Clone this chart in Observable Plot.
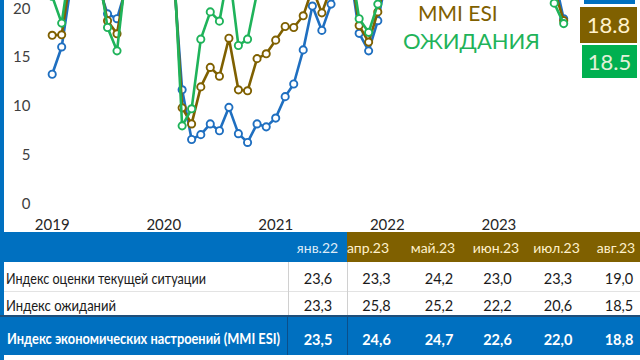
<!DOCTYPE html>
<html><head><meta charset="utf-8">
<script src="https://cdn.jsdelivr.net/npm/d3@7"></script>
<script src="https://cdn.jsdelivr.net/npm/@observablehq/plot@0.6"></script>
<style>
body{margin:0;background:#fff;font-family:Lato,"Open Sans",sans-serif;}
#wrap{position:relative;width:640px;height:360px;overflow:hidden;background:#fff;}
#wrap svg{position:absolute;left:0;top:0;}
.abs{position:absolute;white-space:nowrap;}
.cell{position:absolute;white-space:nowrap;transform:translate(-50%,-50%);}
.lbl{position:absolute;white-space:nowrap;transform-origin:0 50%;}
</style></head><body><div id="wrap"></div>
<script>
// ---- data (monthly, Jan 2019 – Aug 2023) ----
const current = [13.3,16.1,22.0,22.8,23.2,22.4,19.5,19.0,22.3,23.0,23.6,23.2,
  23.8,24.0,11.7,6.6,7.1,8.2,7.5,9.9,7.2,6.3,8.2,7.9,
  8.8,11.0,12.3,15.8,20.3,17.8,20.5,22.5,24.0,17.5,15.7,18.8,
  23.6,23.0,22.4,22.8,23.2,23.5,23.1,22.9,23.4,23.8,24.0,23.6,
  23.9,23.4,23.7,23.3,24.2,23.0,23.3,19.0];
const expectations = [21.3,18.55,24.5,25.0,24.6,24.0,18.1,15.7,24.2,25.0,25.4,24.8,
  25.5,25.8,8.0,9.75,16.9,19.7,18.75,24.1,16.25,16.9,21.65,22.9,
  24.8,25.4,23.95,22.85,24.0,21.4,24.0,24.5,25.0,19.0,17.6,20.5,
  23.3,24.5,25.0,25.6,26.0,25.4,25.0,24.6,25.2,25.8,26.2,25.6,
  25.9,25.3,25.5,25.8,25.2,22.2,20.6,18.5];
const esi = [17.3,17.35,23.2,23.9,23.9,23.2,18.8,17.45,23.2,24.0,24.5,24.0,
  24.6,24.9,9.85,8.2,12.0,14.0,13.1,17.0,11.7,11.6,14.9,15.4,
  16.8,18.2,18.1,19.3,22.1,19.6,22.2,23.5,24.5,18.3,16.6,19.7,
  23.5,23.8,23.7,24.2,24.6,24.5,24.0,23.8,24.3,24.8,25.1,24.6,
  24.9,24.4,24.6,24.6,24.7,22.6,22.0,18.8];
const yearLabels = [2019,2020,2021,2022,2023];
const yTicks = [0,5,10,15,20];
const legendNames = ["MMI ESI","ОЖИДАНИЯ"];
const tableMonths = ["янв.22","апр.23","май.23","июн.23","июл.23","авг.23"];
const tableCurrent = [23.6,23.3,24.2,23.0,23.3,19.0];
const tableExpect = [23.3,25.8,25.2,22.2,20.6,18.5];
const tableEsi = [23.5,24.6,24.7,22.6,22.0,18.8];
const rowLabels = ["Индекс оценки текущей ситуации","Индекс ожиданий","Индекс экономических настроений (MMI ESI)"];

// ---- build ----
const BLUE="#1f6fc0", BROWN="#7f6000", GREEN="#1fb35a";
const months = d3.utcMonth.range(new Date(Date.UTC(2019,0,1)), new Date(Date.UTC(2023,8,1)));
const mk = arr => arr.map((v,i)=>({date:months[i], value:v}));
const sCur = mk(current), sExp = mk(expectations), sEsi = mk(esi);
const yearDates = yearLabels.map(y=>new Date(Date.UTC(y,0,1)));

function seriesMarks(data,color){
  return [
    Plot.line(data,{x:"date",y:"value",stroke:color,strokeWidth:2.6,clip:true}),
    Plot.dot(data,{x:"date",y:"value",r:3.6,fill:"white",stroke:color,strokeWidth:1.9,clip:true})
  ];
}

const chart = Plot.plot({
  width:640, height:232, marginLeft:35, marginRight:0, marginTop:0, marginBottom:28,
  style:{fontFamily:"Lato, 'Open Sans', sans-serif", background:"transparent", overflow:"hidden"},
  x:{type:"utc", domain:[months[0], months[months.length-1]], range:[51.7,563.2]},
  y:{domain:[0,20.87], range:[203.3,0]},
  marks:[
    Plot.axisY(yTicks,{tickSize:0,tickPadding:5,fontSize:15,fill:"#404040",label:null}),
    Plot.axisX(yearDates,{tickSize:0,tickPadding:15,fontSize:15,tickFormat:"%Y",fill:"#262626",label:null}),
    ...seriesMarks(sCur,BLUE),
    ...seriesMarks(sEsi,BROWN),
    ...seriesMarks(sExp,GREEN)
  ]
});
const wrap = document.getElementById("wrap");
wrap.appendChild(chart);

function add(text, cls, style){
  const d=document.createElement("div"); d.className=cls; d.textContent=text;
  Object.assign(d.style, style); wrap.appendChild(d); return d;
}
function box(style){ const d=document.createElement("div"); d.className="abs"; Object.assign(d.style,style); wrap.appendChild(d); return d; }
function fitLabel(text, left, cy, width, style){
  const d = add(text,"lbl",Object.assign({left:left+"px",top:cy+"px",lineHeight:"18px"},style));
  const w = d.getBoundingClientRect().width;
  d.style.transform = `translate(0,-50%) scaleX(${width/w})`;
  return d;
}

// left blue stripe
box({left:"0px",top:"0px",width:"4px",height:"360px",background:"#0070c0"});

// legend labels
add(legendNames[0],"abs",{left:"418px",top:"0px",fontSize:"21px",color:BROWN});
add(legendNames[1],"abs",{left:"403px",top:"27px",fontSize:"22px",color:GREEN});

// end value boxes
const fmtDot = v=>v.toFixed(1);
box({left:"584px",top:"-31px",width:"51px",height:"35px",background:"#0070c0"});
const br = box({left:"580px",top:"7px",width:"57px",height:"36px",background:BROWN,color:"#fff2cc",fontSize:"22px",textAlign:"center",lineHeight:"36px"});
br.textContent = fmtDot(esi[esi.length-1]);
const bg = box({left:"582px",top:"45px",width:"55px",height:"33px",background:"#00b050",color:"#e2f0d9",fontSize:"22px",textAlign:"center",lineHeight:"33px"});
bg.textContent = fmtDot(expectations[expectations.length-1]);

// ---- table ----
const headCenters=[317.5,368,433,496,556.5,616];
const valCenters=[318,376.5,439,497.5,558,619];
box({left:"0px",top:"232px",width:"347px",height:"30px",background:"#0070c0"});
box({left:"347px",top:"232px",width:"293px",height:"30px",background:BROWN});
box({left:"0px",top:"315px",width:"640px",height:"2px",background:"#1f4e79"});
box({left:"0px",top:"317px",width:"640px",height:"38px",background:"#0070c0"});
box({left:"4px",top:"291px",width:"636px",height:"1px",background:"#e3e3e3"});
box({left:"288px",top:"262px",width:"1px",height:"53px",background:"#d0d0d0"});
box({left:"347px",top:"262px",width:"1px",height:"53px",background:"#d0d0d0"});
box({left:"287px",top:"317px",width:"1px",height:"38px",background:"#0b4f8a"});
box({left:"347px",top:"317px",width:"1px",height:"38px",background:"#0b4f8a"});

const fmt = v=>v.toFixed(1).replace(".",",");
tableMonths.forEach((m,i)=>add(m,"cell",{left:headCenters[i]+"px",top:"247px",fontSize:"14px",color:i===0?"#ddebf7":"#fff2cc"}));
tableCurrent.forEach((v,i)=>add(fmt(v),"cell",{left:valCenters[i]+"px",top:"278px",fontSize:"14.5px",color:"#1a1a1a"}));
tableExpect.forEach((v,i)=>add(fmt(v),"cell",{left:valCenters[i]+"px",top:"305px",fontSize:"14.5px",color:"#1a1a1a"}));
tableEsi.forEach((v,i)=>add(fmt(v),"cell",{left:valCenters[i]+"px",top:"339px",fontSize:"14.5px",fontWeight:"bold",color:"#ffffff"}));
fitLabel(rowLabels[0],6,278,200,{fontSize:"15px",color:"#1a1a1a"});
fitLabel(rowLabels[1],6,305,110,{fontSize:"15px",color:"#1a1a1a"});
fitLabel(rowLabels[2],7,339,273,{fontSize:"14.5px",fontWeight:"bold",color:"#ffffff"});
</script>
</body></html>
